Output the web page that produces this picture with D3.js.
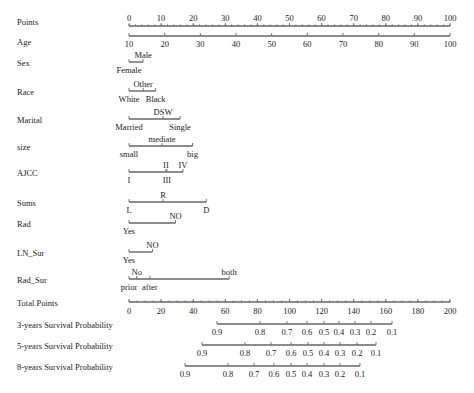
<!DOCTYPE html>
<html><head><meta charset="utf-8">
<script src="https://cdn.jsdelivr.net/npm/d3@7/dist/d3.min.js"></script>
<style>
html,body{margin:0;padding:0;background:#fff;}
svg text{font-family:"Liberation Serif","DejaVu Serif",serif;fill:#222;}
</style></head>
<body><svg id="c" width="474" height="393"></svg>
<script>
// ---- data ----
const pointsTicks = [0,10,20,30,40,50,60,70,80,90,100];
const ageTicks = [10,20,30,40,50,60,70,80,90,100];
const sexLevels = ["Female","Male"];
const sexPoints = [0,4.4];
const raceLevels = ["White","Other","Black"];
const racePoints = [0,4.4,8.3];
const maritalLevels = ["Married","DSW","Single"];
const maritalPoints = [0,10.6,15.9];
const sizeLevels = ["small","mediate","big"];
const sizePoints = [0,10.3,19.8];
const ajccLevels = ["I","II","III","IV"];
const ajccPoints = [0,11.5,11.8,16.8];
const sumsLevels = ["L","R","D"];
const sumsPoints = [0,10.6,24.1];
const radLevels = ["Yes","NO"];
const radPoints = [0,14.5];
const lnLevels = ["Yes","NO"];
const lnPoints = [0,7.3];
const radSurLevels = ["prior","No","after","both"];
const radSurPoints = [0,2.4,6.5,31.2];
const totalTicks = [0,20,40,60,80,100,120,140,160,180,200];
const survLabels = ["0.9","0.8","0.7","0.6","0.5","0.4","0.3","0.2","0.1"];
const surv3Total = [54.8,81.6,98.4,110.9,121.5,130.8,140.8,150.8,163.9];
const surv5Total = [45.5,72.3,88.5,101.0,111.5,121.5,131.5,142.1,153.9];
const surv8Total = [34.9,61.7,77.9,90.3,100.9,110.9,121.5,131.5,143.9];

// ---- drawing ----
const svg = d3.select("#c");
const X0 = 129, X1 = 450;
const xPts = d3.scaleLinear().domain([0,100]).range([X0,X1]);
const xAge = d3.scaleLinear().domain([10,100]).range([X0,X1]);
const xTot = d3.scaleLinear().domain([0,200]).range([X0,X1]);
const FS = 8.5, LINE = "#666", LW = 1.4;

function rowLabel(text, y){
  svg.append("text").attr("x",17).attr("y",y+1).attr("dy","0.35em")
    .attr("font-size",FS).text(text);
}
function hline(x1,x2,y){
  svg.append("line").attr("x1",x1).attr("x2",x2).attr("y1",y).attr("y2",y)
    .attr("stroke",LINE).attr("stroke-width",LW);
}
function tick(x,y,len){
  svg.append("line").attr("x1",x).attr("x2",x).attr("y1",y).attr("y2",y-len)
    .attr("stroke",LINE).attr("stroke-width",0.9);
}
function label(x,y,t){
  svg.append("text").attr("x",x).attr("y",y).attr("dy","0.35em")
    .attr("text-anchor","middle").attr("font-size",FS).text(t);
}

// Points
let y = 26;
rowLabel("Points",21);
hline(X0,X1,y);
d3.range(0,101,2).forEach(v=>tick(xPts(v),y,1.6));
pointsTicks.forEach(v=>{tick(xPts(v),y,3); label(xPts(v),y-8,v);});

// Age
y = 36;
rowLabel("Age",41);
hline(X0,X1,y);
ageTicks.forEach(v=>{tick(xAge(v),y,3); label(xAge(v),y+8,v);});

// categorical rows
const cats = [
  ["Sex",sexLevels,sexPoints,62],
  ["Race",raceLevels,racePoints,91],
  ["Marital",maritalLevels,maritalPoints,119],
  ["size",sizeLevels,sizePoints,146],
  ["AJCC",ajccLevels,ajccPoints,172],
  ["Sums",sumsLevels,sumsPoints,202],
  ["Rad",radLevels,radPoints,223],
  ["LN_Sur",lnLevels,lnPoints,252],
  ["Rad_Sur",radSurLevels,radSurPoints,279]
];
cats.forEach(([name,lev,pts,ly])=>{
  rowLabel(name, ly);
  const ext = d3.extent(pts);
  hline(xPts(ext[0]),xPts(ext[1]),ly);
  const order = d3.range(lev.length).sort((a,b)=>pts[a]-pts[b]);
  order.forEach((i,k)=>{
    const x = xPts(pts[i]);
    tick(x,ly,3);
    label(x, k%2===0 ? ly+8 : ly-7, lev[i]);
  });
});

// Total points
y = 302;
rowLabel("Total Points",302);
hline(X0,X1,y);
d3.range(0,201,5).forEach(v=>tick(xTot(v),y,1.6));
totalTicks.forEach(v=>{tick(xTot(v),y,3); label(xTot(v),y+9,v);});

// survival rows
const survRows = [
  ["3-years Survival Probability",surv3Total,324],
  ["5-years Survival Probability",surv5Total,345],
  ["8-years Survival Probability",surv8Total,366]
];
survRows.forEach(([name,tot,ly])=>{
  rowLabel(name, ly);
  const ext = d3.extent(tot);
  hline(xTot(ext[0]),xTot(ext[1]),ly);
  tot.forEach((t,i)=>{tick(xTot(t),ly,3); label(xTot(t),ly+8,survLabels[i]);});
});
</script></body></html>
